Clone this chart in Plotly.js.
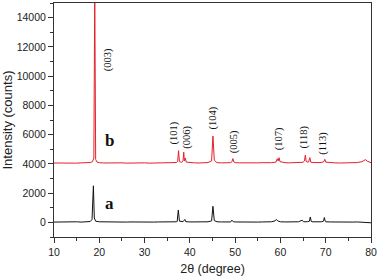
<!DOCTYPE html>
<html>
<head>
<meta charset="utf-8">
<script src="https://cdn.plot.ly/plotly-3.0.1.min.js"></script>
<style>
html,body{margin:0;padding:0;background:#fff;}
#chart{width:378px;height:276px;}
</style>
</head>
<body>
<div id="chart"></div>
<script>
// Series b (red, offset pattern)
var bX = [10,11,12,13,14,15,16,17,18,18.5,18.8,19.0,19.2,19.5,20,21,22,23,24,25,26,27,28,29,30,31,32,33,34,35,36,37,
  37.3,37.5,37.7,38.2,38.5,38.65,38.8,39.0,39.2,40,41,42,43,44,44.8,45.1,45.4,45.8,46,47,48,49,49.3,49.5,49.7,50,
  51,52,53,54,55,56,57,58,59,59.3,59.5,59.7,59.9,60.5,61,62,63,64,65,65.3,65.5,65.7,66.2,66.5,66.7,67,68,69,69.6,69.8,70.0,
  71,72,73,74,75,76,77,78,78.5,78.8,79.2,80];
var bY = [4060,4050,4070,4040,4060,4050,4070,4060,4090,4150,4400,15800,4300,4120,4080,4060,4070,4050,4060,4070,4050,4060,4080,4060,4070,4050,4060,4070,4060,4080,4070,4090,
  4150,4900,4150,4100,4200,4800,4200,4400,4120,4080,4070,4060,4080,4090,4200,5900,4250,4100,4080,4070,4060,4080,4150,4360,4130,4080,
  4070,4060,4070,4060,4070,4080,4070,4080,4120,4350,4200,4420,4150,4090,4080,4070,4080,4070,4110,4200,4600,4150,4120,4430,4120,4090,4080,4090,4150,4310,4120,
  4080,4070,4060,4070,4080,4070,4090,4150,4250,4290,4180,4080];

// Series a (black)
var aX = [10,11,12,13,14,15,16,17,18,18.4,18.7,18.9,19.2,20,21,22,23,24,25,26,27,28,29,30,31,32,33,34,35,36,37,
  37.2,37.45,37.7,38.5,38.9,39.1,40,41,42,43,44,44.8,45.1,45.4,46,47,48,49,49.3,49.6,50,51,52,53,54,55,56,57,58,
  58.8,59.1,59.4,60,61,62,63,64,64.8,65.1,66,66.4,66.6,66.8,67,68,69,69.5,69.7,69.9,70,71,72,73,74,75,76,77,78,79,80];
var aY = [20,30,10,30,20,40,20,30,60,200,2500,300,80,40,30,20,30,20,30,20,30,20,30,20,30,20,30,20,30,20,40,
  60,840,80,50,200,50,30,20,30,20,40,100,1100,120,40,30,20,30,150,40,30,20,30,20,30,20,30,20,40,
  100,200,100,40,30,20,30,40,150,40,50,80,370,70,40,30,40,80,330,80,40,30,20,30,20,30,20,30,20,10,-30];

var peakLabels = ["(003)","(101)","(006)","(104)","(005)","(107)","(118)","(113)"];
var peakLabelX = [21.95,36.5,39.3,45.1,49.8,59.6,65.1,69.2];
var peakLabelY = [11100,6075,5840,7160,5500,5730,5840,5390];

var seriesNames = ["b","a"];
var seriesLabelX = [22.3,22.3];
var seriesLabelY = [5620,1280];

var xTicks = [10,20,30,40,50,60,70,80];
var yTicks = [0,2000,4000,6000,8000,10000,12000,14000];

var traces = [
  {x:bX, y:bY, type:'scatter', mode:'lines', line:{color:'#e3202a', width:1}, hoverinfo:'none'},
  {x:aX, y:aY, type:'scatter', mode:'lines', line:{color:'#111111', width:1}, hoverinfo:'none'}
];

var annotations = [];
for (var i=0;i<peakLabels.length;i++){
  annotations.push({x:peakLabelX[i], y:peakLabelY[i], xref:'x', yref:'y', text:peakLabels[i], showarrow:false,
    textangle:-90, font:{family:'Liberation Serif, Times New Roman, serif', size:10.5, color:'#111'}});
}
for (var j=0;j<seriesNames.length;j++){
  annotations.push({x:seriesLabelX[j], y:seriesLabelY[j], xref:'x', yref:'y', text:'<b>'+seriesNames[j]+'</b>', showarrow:false,
    font:{family:'Liberation Serif, Times New Roman, serif', size:17, color:'#111'}});
}

var axisFont = {family:'Liberation Sans, Arial, sans-serif', size:10.5, color:'#222'};

var layout = {
  width:378, height:276,
  margin:{l:54, r:7, t:3, b:39},
  paper_bgcolor:'#fff', plot_bgcolor:'#fff',
  showlegend:false,
  xaxis:{range:[10,80], tickvals:xTicks, ticktext:xTicks.map(String), ticks:'outside', ticklen:5, tickwidth:1, tickcolor:'#333',
    minor:{dtick:5, ticks:'outside', ticklen:3, tickcolor:'#333', showgrid:false},
    showline:true, linecolor:'#333', linewidth:1, mirror:true, showgrid:false, zeroline:false, tickfont:axisFont,
    title:{text:'2θ (degree)', font:{family:'Liberation Sans, Arial, sans-serif', size:12.5, color:'#222'}, standoff:8}},
  yaxis:{range:[-1000,15000], tickvals:yTicks, ticktext:yTicks.map(String), ticks:'outside', ticklen:5, tickwidth:1, tickcolor:'#333',
    minor:{dtick:1000, ticks:'outside', ticklen:3, tickcolor:'#333', showgrid:false},
    showline:true, linecolor:'#333', linewidth:1, mirror:true, showgrid:false, zeroline:false, tickfont:axisFont,
    title:{text:'Intensity (counts)', font:{family:'Liberation Sans, Arial, sans-serif', size:13, color:'#222'}, standoff:2}},
  annotations:annotations
};

Plotly.newPlot('chart', traces, layout, {staticPlot:true, displayModeBar:false});
</script>
</body>
</html>
